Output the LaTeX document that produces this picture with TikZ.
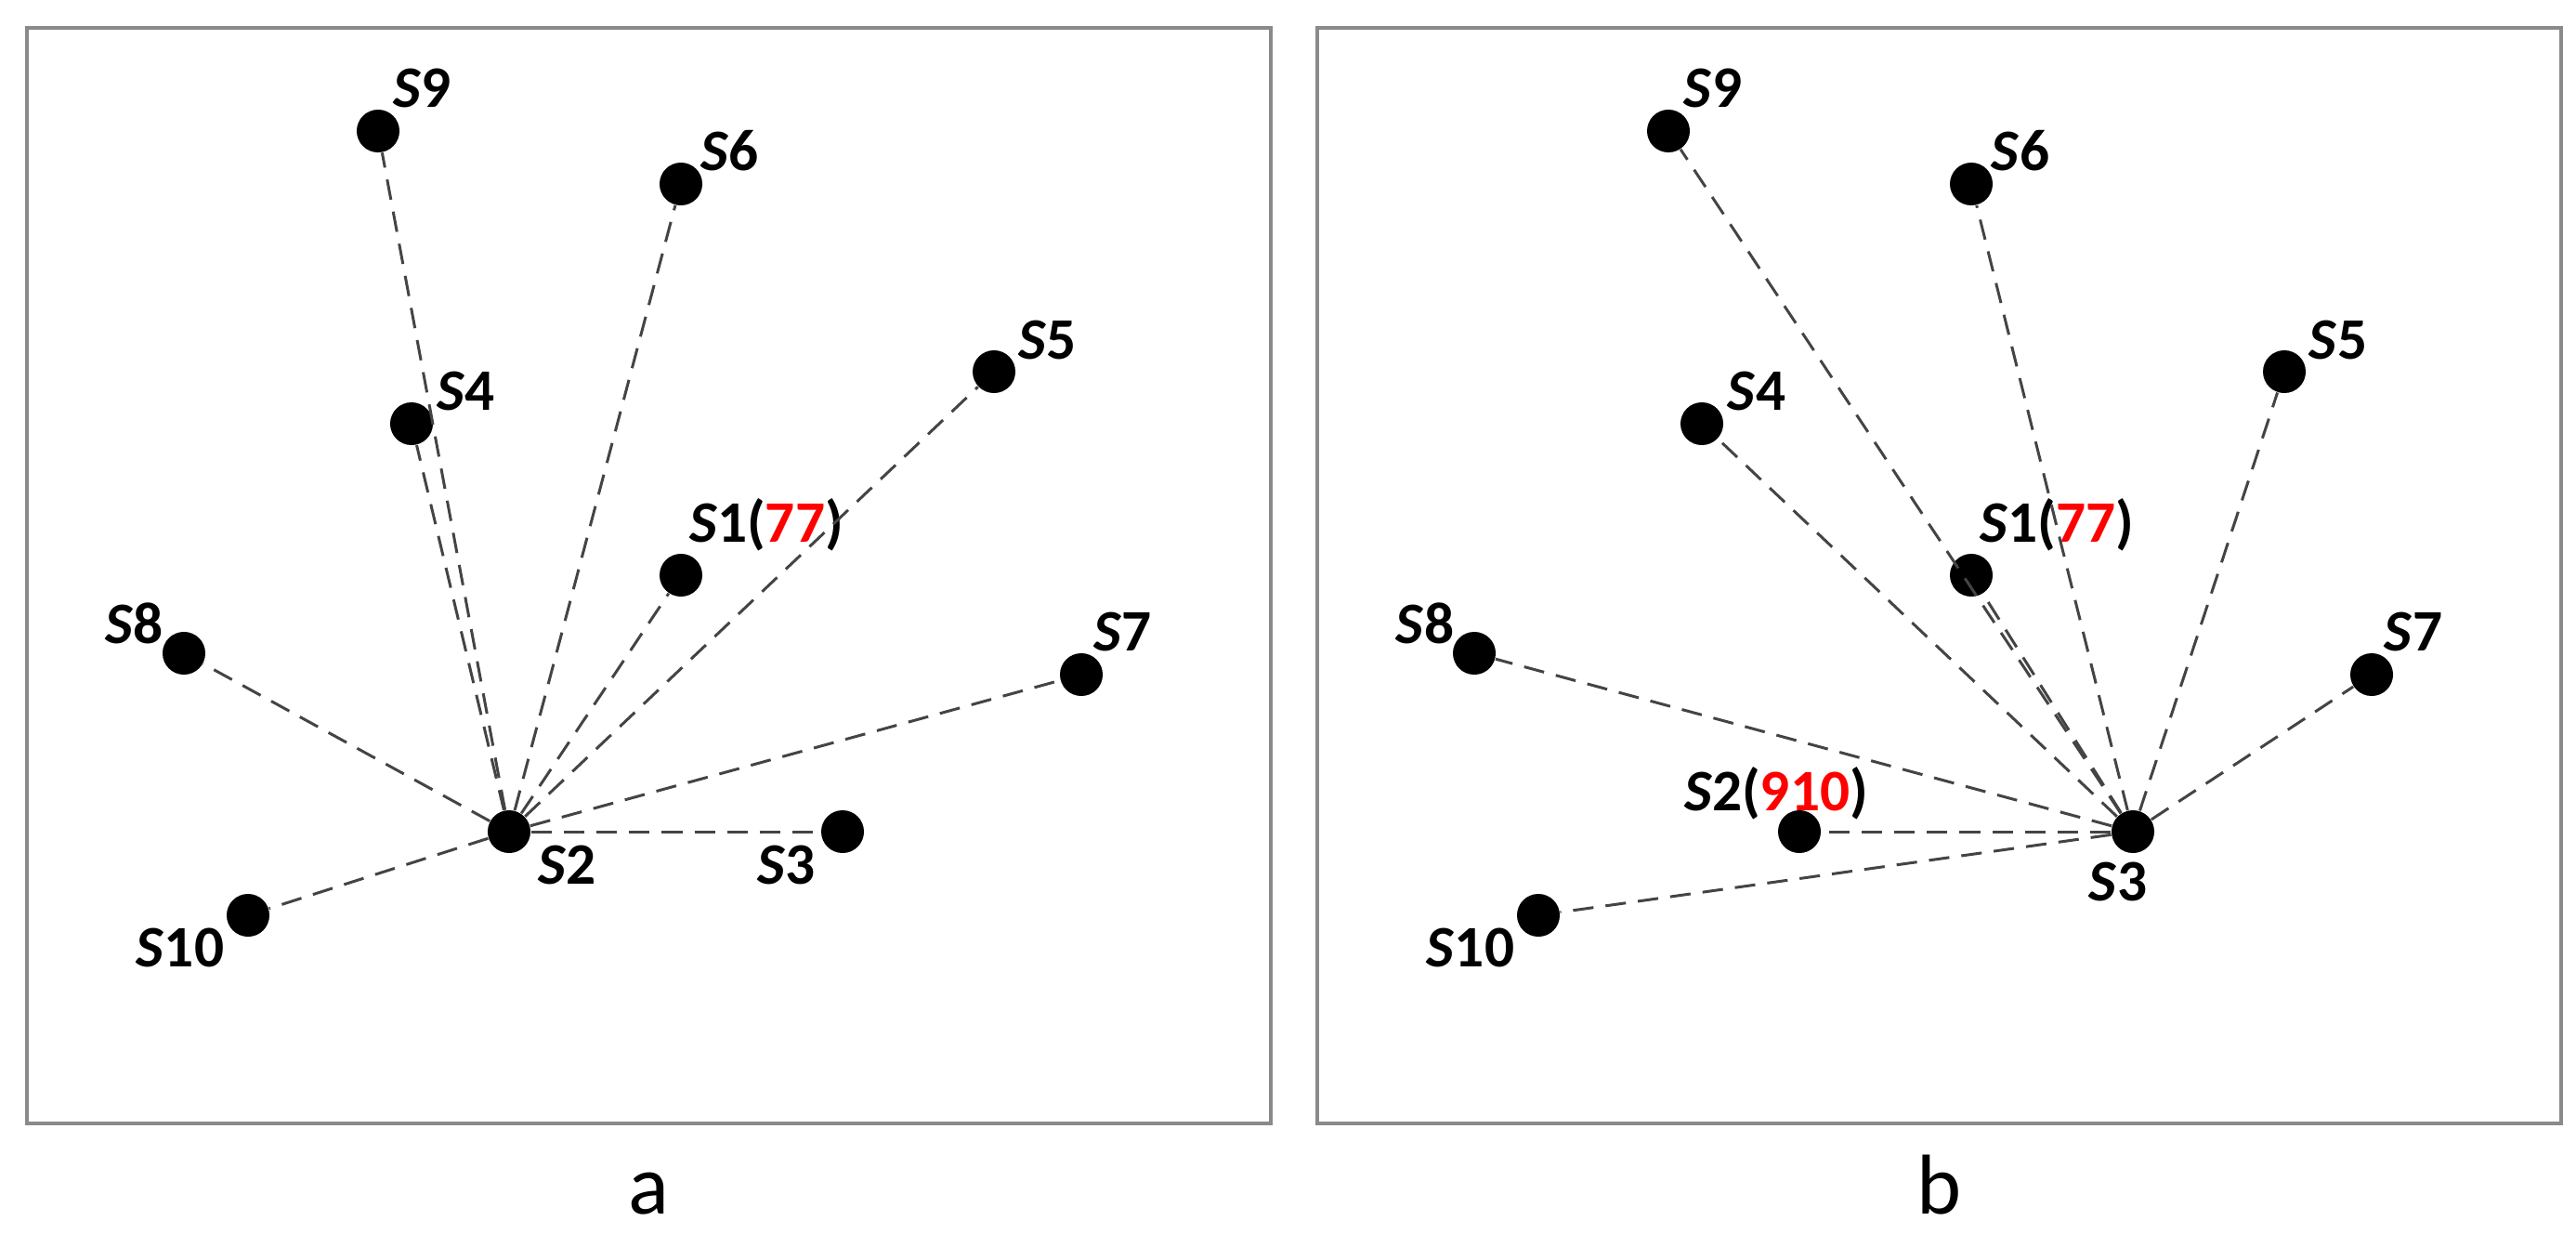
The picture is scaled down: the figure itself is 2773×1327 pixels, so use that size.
\documentclass[tikz,border=0pt]{standalone}
\usepackage{fontspec}
\setmainfont{Carlito}
\definecolor{boxgray}{HTML}{8A8A8A}
\definecolor{linegray}{HTML}{444444}
\definecolor{numred}{HTML}{FF0000}
\newcommand{\sname}[1]{\textbf{\textit{S}#1}}
\begin{document}
\begin{tikzpicture}[x=0.01cm,y=-0.01cm,
  dot/.style={circle,fill=black,inner sep=0pt,minimum size=0.46cm},
  lbl/.style={anchor=base,inner sep=0pt,font=\fontsize{18}{20}\selectfont\bfseries},
  conn/.style={draw=linegray,line width=0.85pt,dash pattern=on 6.3pt off 3.7pt},
  panel/.style={draw=boxgray,line width=1.1pt},
  captxt/.style={anchor=base,inner sep=0pt,font=\fontsize{26}{28}\selectfont}]
\useasboundingbox (0,0) rectangle (2773,1327);
% panel frames
\draw[panel] (29,30) rectangle (1368,1209);
\draw[panel] (1418,30) rectangle (2757,1209);
\node[captxt] (capa) at (698,1306) {a};
\node[captxt] (capb) at (2087,1306) {b};
% ---------- panel a ----------
\begin{scope}
\node[dot] (a9) at (407,141) {};
\node[dot] (a6) at (733,198) {};
\node[dot] (a4) at (443,456) {};
\node[dot] (a5) at (1070,400) {};
\node[dot] (a1) at (733,619) {};
\node[dot] (a8) at (198,703) {};
\node[dot] (a7) at (1164,726) {};
\node[dot] (a2) at (548,895) {};
\node[dot] (a3) at (907,895) {};
\node[dot] (a10) at (267,985) {};
\node[lbl] (la9) at (455,115) {\sname{9}};
\node[lbl] (la6) at (786,183) {\sname{6}};
\node[lbl] (la4) at (502,441) {\sname{4}};
\node[lbl] (la5) at (1128,386) {\sname{5}};
\node[lbl] (la1) at (825,583) {\sname{1(\textcolor{numred}{77})}};
\node[lbl] (la8) at (145,692) {\sname{8}};
\node[lbl] (la7) at (1209,700) {\sname{7}};
\node[lbl] (la2) at (611,951) {\sname{2}};
\node[lbl] (la3) at (847,951) {\sname{3}};
\node[lbl] (la10) at (194,1040) {\sname{10}};
\foreach \t in {a9,a6,a4,a5,a1,a8,a7,a3,a10}
  \draw[conn] (a2) -- (\t);
\end{scope}
% ---------- panel b ----------
\begin{scope}
\node[dot] (b9) at (1796,141) {};
\node[dot] (b6) at (2122,198) {};
\node[dot] (b4) at (1832,456) {};
\node[dot] (b5) at (2459,400) {};
\node[dot] (b1) at (2122,619) {};
\node[dot] (b8) at (1587,703) {};
\node[dot] (b7) at (2553,726) {};
\node[dot] (b2) at (1937,895) {};
\node[dot] (b3) at (2296,895) {};
\node[dot] (b10) at (1656,985) {};
\node[lbl] (lb9) at (1844,115) {\sname{9}};
\node[lbl] (lb6) at (2175,183) {\sname{6}};
\node[lbl] (lb4) at (1891,441) {\sname{4}};
\node[lbl] (lb5) at (2517,386) {\sname{5}};
\node[lbl] (lb1) at (2214,583) {\sname{1(\textcolor{numred}{77})}};
\node[lbl] (lb8) at (1534,692) {\sname{8}};
\node[lbl] (lb7) at (2598,700) {\sname{7}};
\node[lbl] (lb2) at (1912,872) {\sname{2(\textcolor{numred}{910})}};
\node[lbl] (lb3) at (2280,969) {\sname{3}};
\node[lbl] (lb10) at (1583,1040) {\sname{10}};
\foreach \t in {b9,b6,b4,b5,b1,b8,b7,b2,b10}
  \draw[conn] (b3) -- (\t);
\end{scope}
\end{tikzpicture}
\end{document}
